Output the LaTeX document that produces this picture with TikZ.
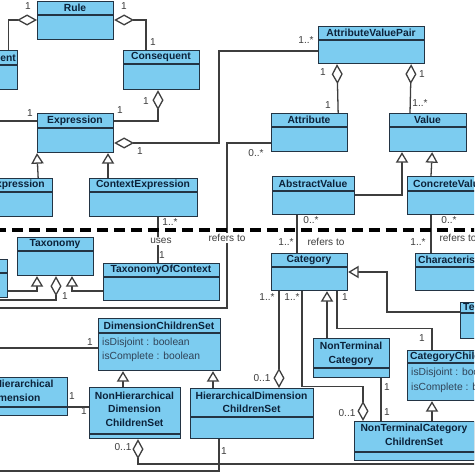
\documentclass[tikz,border=0pt]{standalone}
\usepackage{fontspec}
\setmainfont{Liberation Sans}
\usetikzlibrary{arrows.meta,calc}

\definecolor{boxfill}{RGB}{124,204,240}
\definecolor{boxline}{RGB}{35,52,68}
\definecolor{namecol}{RGB}{12,34,58}
\definecolor{linkcol}{RGB}{62,62,62}

\begin{document}
\begin{tikzpicture}[x=0.03cm, y=-0.03cm,
  umlclass/.style={draw=boxline, fill=boxfill, line width=1pt, anchor=north west, inner sep=0pt},
  boxsize/.style 2 args={minimum width=#1*0.03cm, minimum height=#2*0.03cm},
  cname/.style={font=\fontsize{8.8}{11.6}\selectfont\bfseries, text=namecol, align=center, inner sep=0pt},
  cattr/.style={font=\fontsize{8.8}{11}\selectfont, text=namecol!85, anchor=west, inner sep=0pt},
  divline/.style={draw=boxline, line width=1pt},
  link/.style={draw=linkcol, line width=1.1pt},
  agg/.style={link, -{Diamond[fill=white, length=17pt, width=9.4pt]}},
  gen/.style={link, -{Triangle[fill=white, length=9pt, width=10.5pt]}},
  mult/.style={font=\fontsize{8.6}{10}\selectfont, text=linkcol, inner sep=0pt},
  role/.style={mult, fill=white, inner sep=1pt},
  sep/.style={line width=2.6pt, dash pattern=on 9.5pt off 5pt},
]
\useasboundingbox (0,0) rectangle (474,474);
\fill[white] (0,0) rectangle (474,474);
\clip (0,0) rectangle (474,474);

  % Rule part (top)
  \node[umlclass, boxsize={60}{39}] (antecedent) at (-43,50) {};
  \draw[divline] ($(antecedent.north west)+(0,15)$) -- ($(antecedent.north east)+(0,15)$);
  \node[cname, anchor=east] (antecedentT) at (16,57.5) {Antecedent};

  \node[umlclass, boxsize={76}{38}] (rule) at (37,1) {};
  \draw[divline] ($(rule.north west)+(0,14)$) -- ($(rule.north east)+(0,14)$);
  \node[cname] (ruleT) at (75,8) {Rule};

  \node[umlclass, boxsize={76}{39}] (consequent) at (123,50) {};
  \draw[divline] ($(consequent.north west)+(0,14)$) -- ($(consequent.north east)+(0,14)$);
  \node[cname] (consequentT) at (161,57) {Consequent};

  \node[umlclass, boxsize={76}{39}] (expression) at (37,113) {};
  \draw[divline] ($(expression.north west)+(0,15)$) -- ($(expression.north east)+(0,15)$);
  \node[cname] (expressionT) at (75,120.5) {Expression};

  \node[umlclass, boxsize={112}{38}] (leftexpr) at (-60,178) {};
  \draw[divline] ($(leftexpr.north west)+(0,14)$) -- ($(leftexpr.north east)+(0,14)$);
  \node[cname, anchor=east] (leftexprT) at (45,185) {Expression};

  \node[umlclass, boxsize={108}{38}] (contextexpr) at (89,178) {};
  \draw[divline] ($(contextexpr.north west)+(0,14)$) -- ($(contextexpr.north east)+(0,14)$);
  \node[cname] (contextexprT) at (143,185) {ContextExpression};

  % Attribute / value part
  \node[umlclass, boxsize={106}{37}] (avp) at (318,26) {};
  \draw[divline] ($(avp.north west)+(0,14)$) -- ($(avp.north east)+(0,14)$);
  \node[cname] (avpT) at (371,33) {AttributeValuePair};

  \node[umlclass, boxsize={76}{38}] (attribute) at (271,113) {};
  \draw[divline] ($(attribute.north west)+(0,14)$) -- ($(attribute.north east)+(0,14)$);
  \node[cname] (attributeT) at (309,120) {Attribute};

  \node[umlclass, boxsize={77}{38}] (value) at (389,113) {};
  \draw[divline] ($(value.north west)+(0,14)$) -- ($(value.north east)+(0,14)$);
  \node[cname] (valueT) at (427.5,120) {Value};

  \node[umlclass, boxsize={82}{38}] (abstractvalue) at (272,176) {};
  \draw[divline] ($(abstractvalue.north west)+(0,15)$) -- ($(abstractvalue.north east)+(0,15)$);
  \node[cname] (abstractvalueT) at (313,183.5) {AbstractValue};

  \node[umlclass, boxsize={100}{38}] (concretevalue) at (407,176) {};
  \draw[divline] ($(concretevalue.north west)+(0,15)$) -- ($(concretevalue.north east)+(0,15)$);
  \node[cname, anchor=west] (concretevalueT) at (413,183.5) {ConcreteValue};

  % Taxonomy part
  \node[umlclass, boxsize={76}{38}] (taxonomy) at (17,237) {};
  \draw[divline] ($(taxonomy.north west)+(0,14)$) -- ($(taxonomy.north east)+(0,14)$);
  \node[cname] (taxonomyT) at (55,244) {Taxonomy};

  \node[umlclass, boxsize={67}{38}] (leftdim) at (-60,259) {};
  \draw[divline] ($(leftdim.north west)+(0,14)$) -- ($(leftdim.north east)+(0,14)$);

  \node[umlclass, boxsize={116}{37}] (taxctx) at (103,263) {};
  \draw[divline] ($(taxctx.north west)+(0,14)$) -- ($(taxctx.north east)+(0,14)$);
  \node[cname] (taxctxT) at (161,270) {TaxonomyOfContext};

  % Category part
  \node[umlclass, boxsize={76}{37}] (category) at (271,253) {};
  \draw[divline] ($(category.north west)+(0,14)$) -- ($(category.north east)+(0,14)$);
  \node[cname] (categoryT) at (309,260) {Category};

  \node[umlclass, boxsize={100}{37}] (characteristic) at (415,253) {};
  \draw[divline] ($(characteristic.north west)+(0,14)$) -- ($(characteristic.north east)+(0,14)$);
  \node[cname, anchor=west] (characteristicT) at (418,260) {Characteristic};

  \node[umlclass, boxsize={80}{36}] (terminal) at (460,302) {};
  \draw[divline] ($(terminal.north west)+(0,11)$) -- ($(terminal.north east)+(0,11)$);
  \node[cname, anchor=west] (terminalT) at (463,307.5) {TerminalCategory};

  \node[umlclass, boxsize={76}{39}] (ntcat) at (313,338) {};
  \draw[divline] ($(ntcat.north west)+(0,30)$) -- ($(ntcat.north east)+(0,30)$);
  \node[cname] (ntcatT) at (351,354) {NonTerminal\\Category};

  \node[umlclass, boxsize={110}{50}] (ccs) at (407,350) {};
  \draw[divline] ($(ccs.north west)+(0,13)$) -- ($(ccs.north east)+(0,13)$);
  \node[cname, anchor=west] (ccsT) at (410,356.5) {CategoryChildrenSet};
  \node[cattr] (ccsA) at (411,373) {isDisjoint : boolean};
  \node[cattr] (ccsB) at (411,388) {isComplete : boolean};

  \node[umlclass, boxsize={120}{39}] (ntccs) at (354,421) {};
  \draw[divline] ($(ntccs.north west)+(0,31)$) -- ($(ntccs.north east)+(0,31)$);
  \node[cname] (ntccsT) at (414,435) {NonTerminalCategory\\ChildrenSet};

  % Dimension part
  \node[umlclass, boxsize={122}{52}] (dimcs) at (98,318) {};
  \draw[divline] ($(dimcs.north west)+(0,15)$) -- ($(dimcs.north east)+(0,15)$);
  \node[cname] (dimcsT) at (159,325.5) {DimensionChildrenSet};
  \node[cattr] (dimcsA) at (102,343) {isDisjoint : boolean};
  \node[cattr] (dimcsB) at (102,357) {isComplete : boolean};

  \node[umlclass, boxsize={106}{38}] (leftdim2) at (-39,377) {};
  \draw[divline] ($(leftdim2.north west)+(0,30)$) -- ($(leftdim2.north east)+(0,30)$);
  \node[cname] (leftdim2T) at (14,391) {NonHierarchical\\Dimension};

  \node[umlclass, boxsize={91}{51}] (nhdcs) at (89,387) {};
  \draw[divline] ($(nhdcs.north west)+(0,47)$) -- ($(nhdcs.north east)+(0,47)$);
  \node[cname] (nhdcsT) at (134.5,409) {NonHierarchical\\Dimension\\ChildrenSet};

  \node[umlclass, boxsize={123}{50}] (hdcs) at (190,388) {};
  \draw[divline] ($(hdcs.north west)+(0,29)$) -- ($(hdcs.north east)+(0,29)$);
  \node[cname] (hdcsT) at (251.5,402.5) {HierarchicalDimension\\ChildrenSet};

  % Free ends
  \coordinate (offA) at (-5,121);
  \coordinate (offB) at (-5,308);
  \coordinate (offC) at (-5,300);
  \coordinate (offD) at (-5,348);
  \coordinate (offE) at (480,464);
  \coordinate (offF) at (-5,471);

  % Associations
  \draw[agg] ($(antecedent.north east)+(-10,0)$) |- ($(rule.north west)+(0,19)$);
  \draw[agg] ($(consequent.north west)+(23,0)$) |- ($(rule.north east)+(0,19)$);
  \draw[agg] ($(expression.north east)+(0,8)$) -| ($(consequent.south west)+(35,0)$);
  \draw[link] (offA) -- ($(expression.north west)+(0,8)$);
  \draw[agg] ($(avp.north west)+(0,25)$) -- ++(-99,0) |- ($(expression.north east)+(0,30)$);
  \draw[agg] ($(attribute.north east)+(-10,0)$) -- ($(avp.south west)+(19,0)$);
  \draw[agg] ($(value.north west)+(21,0)$) -- ($(avp.south east)+(-14,0)$);
  \draw[link] ($(attribute.north west)+(0,30)$) -- ++(-44,0) |- (offB);
  \draw[link] ($(contextexpr.south west)+(69,0)$) -- ($(taxctx.north west)+(55,0)$);
  \draw[link] ($(abstractvalue.south west)+(25,0)$) -- ($(category.north west)+(26,0)$);
  \draw[link] ($(concretevalue.south west)+(24,0)$) -- ($(characteristic.north west)+(16,0)$);
  \draw[agg] (offC) -| ($(taxonomy.south west)+(39,0)$);
  \draw[link] (offD) -- ($(dimcs.north west)+(0,30)$);
  \draw[link] ($(leftdim2.north east)+(0,30)$) -- ($(nhdcs.north west)+(0,20)$);
  \draw[agg] (offE) -| ($(nhdcs.south west)+(49,0)$);
  \draw[link, line width=1.8pt] ($(hdcs.south west)+(29,0)$) |- (offF);
  \draw[agg] ($(category.south west)+(8,0)$) -- ($(hdcs.north west)+(89,0)$);
  \draw[agg] ($(category.south west)+(31,0)$) -- ++(0,95) -| ($(ntccs.north west)+(9,0)$);
  \draw[link] ($(category.south west)+(66,0)$) -- ++(0,37) -| ($(ccs.north west)+(25,0)$);
  \draw[link] ($(ntcat.south west)+(68,0)$) -- ($(ntccs.north west)+(27,0)$);

  % Generalisations
  \draw[gen] ($(abstractvalue.north east)+(0,19)$) -| ($(value.south west)+(13,0)$);
  \draw[gen] ($(concretevalue.north west)+(24,0)$) -- ($(value.south east)+(-35,0)$);
  \draw[gen] ($(leftexpr.north east)+(-15,0)$) -- (expression.south west);
  \draw[gen] ($(contextexpr.north west)+(19,0)$) -- ($(expression.south west)+(71,0)$);
  \draw[gen] ($(leftdim.north east)+(0,32)$) -| ($(taxonomy.south west)+(20,0)$);
  \draw[gen] ($(taxctx.north west)+(0,28)$) -| ($(taxonomy.south west)+(55,0)$);
  \draw[gen] ($(nhdcs.north west)+(34,0)$) -- ($(dimcs.south west)+(25,0)$);
  \draw[gen] ($(hdcs.north west)+(23,0)$) -- ($(dimcs.south west)+(115,0)$);
  \draw[gen] ($(ntcat.north west)+(14,0)$) -- ($(category.south west)+(56,0)$);
  \draw[gen] ($(terminal.north west)+(0,10)$) -- ++(-73,0) |- ($(category.north east)+(0,19)$);
  \draw[gen] ($(ntccs.north west)+(78,0)$) -- ($(ccs.south west)+(25,0)$);

  % Separator
  \draw[sep] (-5,230) -- (480,230);

  % Multiplicities and roles
  \node[mult] (m1) at (28,6) {1};
  \node[mult] (m2) at (124,6) {1};
  \node[mult] (m3) at (153,42) {1};
  \node[mult] (m4) at (146,101) {1};
  \node[mult] (m5) at (120,110) {1};
  \node[mult] (m6) at (30,113) {1};
  \node[mult] (m7) at (140,151) {1};
  \node[mult] (m8) at (306,40) {1..*};
  \node[mult] (m9) at (323,72) {1};
  \node[mult] (m10) at (422,74) {1};
  \node[mult] (m11) at (328,105) {1};
  \node[mult] (m12) at (420,103) {1..*};
  \node[mult] (m13) at (256,153) {0..*};
  \node[mult] (m14) at (170,222) {1..*};
  \node[role] (r1) at (161,241) {uses};
  \node[mult] (m15) at (162,255) {1};
  \node[role] (r2) at (227,238) {refers to};
  \node[mult] (m16) at (311,220) {0..*};
  \node[mult] (m17) at (286,242) {1..*};
  \node[mult] (r3) at (326,242) {refers to};
  \node[mult] (m18) at (449,220) {0..*};
  \node[mult] (m19) at (418,242) {1..*};
  \node[mult] (r4) at (458,238) {refers to};
  \node[mult] (m20) at (65,296) {1};
  \node[mult] (m21) at (90,342) {1};
  \node[mult] (m22) at (72,396) {1};
  \node[mult] (m23) at (84,411) {1};
  \node[mult] (m24) at (123,447) {0..1};
  \node[mult] (m25) at (224,451) {1};
  \node[mult] (m26) at (262,378) {0..1};
  \node[mult] (m27) at (267,297) {1..*};
  \node[mult] (m28) at (292,297) {1..*};
  \node[mult] (m29) at (345,297) {1};
  \node[mult] (m30) at (347,413) {0..1};
  \node[mult] (m31) at (387,387) {1};
  \node[mult] (m32) at (387,412) {1};
  \node[mult] (m33) at (422,338) {1};

\end{tikzpicture}
\end{document}
